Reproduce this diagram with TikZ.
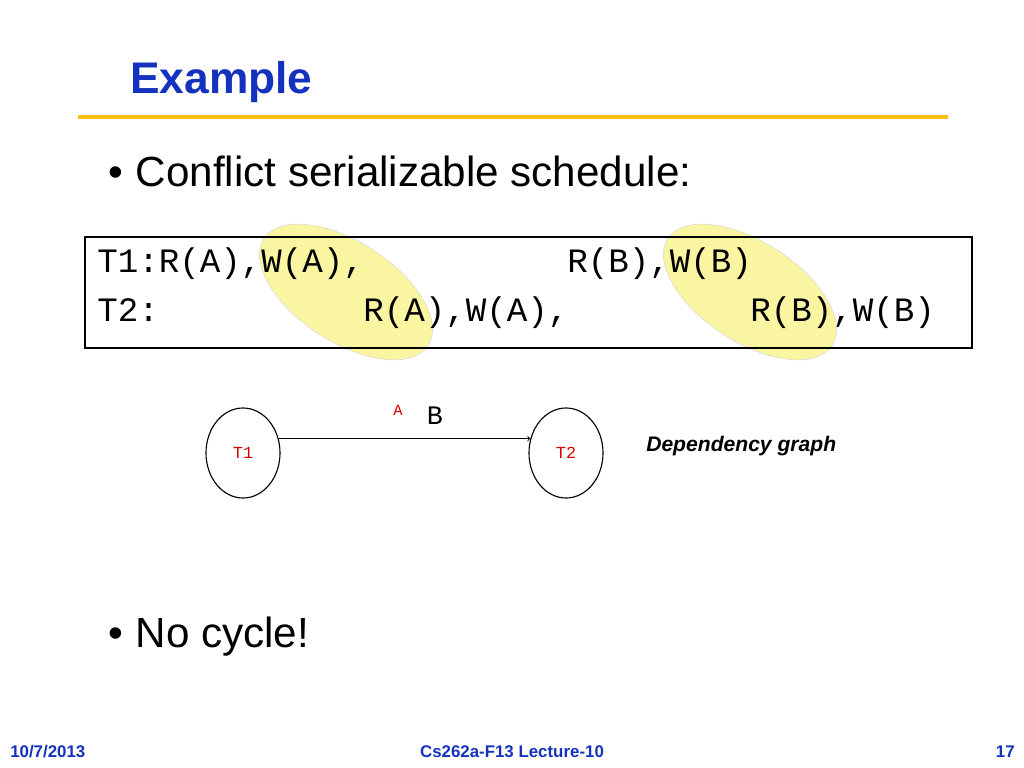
\documentclass[tikz,border=0pt]{standalone}
\usepackage{fontspec}
\setmainfont{Liberation Sans}
\setmonofont{Liberation Mono}
\usetikzlibrary{arrows,shapes.geometric}
\definecolor{titleblue}{RGB}{20,50,190}
\definecolor{rulegold}{RGB}{250,190,20}
\definecolor{hilite}{RGB}{250,245,160}
\begin{document}
\begin{tikzpicture}[x=0.025cm,y=-0.025cm,
    mono/.style={font=\fontsize{24.3}{26}\selectfont\ttfamily,anchor=base west,inner sep=0pt},
    bullet/.style={font=\fontsize{30}{34}\selectfont,anchor=base west,inner sep=0pt},
    tlabel/.style={font=\fontsize{12}{14}\selectfont\ttfamily,text=red!85!black},
    txn/.style={draw,ellipse,thick,inner sep=0pt,minimum width=1.85cm,minimum height=2.25cm},
    foot/.style={font=\fontsize{12}{14}\selectfont\bfseries,text=titleblue,inner sep=0pt}]
\useasboundingbox (0,0) rectangle (1024,768);
\fill[white] (0,0) rectangle (1024,768);
% title
\node[font=\fontsize{31.5}{34}\selectfont\bfseries,text=titleblue,anchor=base west,inner sep=0pt] (title) at (130,94) {Example};
\draw[rulegold,line width=2.5pt] (78,117) -- (948,117);
\node[bullet] (b1) at (108,187) {\textbullet\hspace{0.3em}Conflict serializable schedule:};
% schedule
\fill[hilite,draw=black!15,rotate around={-33:(346,292)}] (346,292) ellipse (98 and 50);
\fill[hilite,draw=black!15,rotate around={-33:(750,292)}] (750,292) ellipse (98 and 50);
\draw[thick] (85,237) rectangle (972,348);
\node[mono] (s1a) at (97,272) {T1:R(A),W(A),};
\node[mono] (s1b) at (567,272) {R(B),W(B)};
\node[mono] (s2a) at (97,321) {T2:};
\node[mono] (s2b) at (363,321) {R(A),W(A),};
\node[mono] (s2c) at (750,321) {R(B),W(B)};
% dependency graph
\node[txn] (t1) at (243,453) {};
\node[txn] (t2) at (566,453) {};
\node[tlabel] (l1) at (t1) {T1};
\node[tlabel] (l2) at (t2) {T2};
\draw[->,>=to,semithick] (t1.22) -- (t2.158);
\node[font=\fontsize{11}{13}\selectfont\ttfamily,text=red!85!black] (la) at (398,410) {A};
\node[font=\fontsize{19}{21}\selectfont\ttfamily] (lb) at (435,416) {B};
\node[font=\fontsize{15}{17}\selectfont\bfseries\itshape,anchor=west,inner sep=0pt] (dg) at (646,446) {Dependency graph};
\node[bullet] (b2) at (108,647) {\textbullet\hspace{0.3em}No cycle!};
% footer
\node[foot,anchor=base west] (f1) at (10,757) {10/7/2013};
\node[foot,anchor=base] (f2) at (512,757) {Cs262a-F13 Lecture-10};
\node[foot,anchor=base east] (f3) at (1015,757) {17};
\end{tikzpicture}
\end{document}
